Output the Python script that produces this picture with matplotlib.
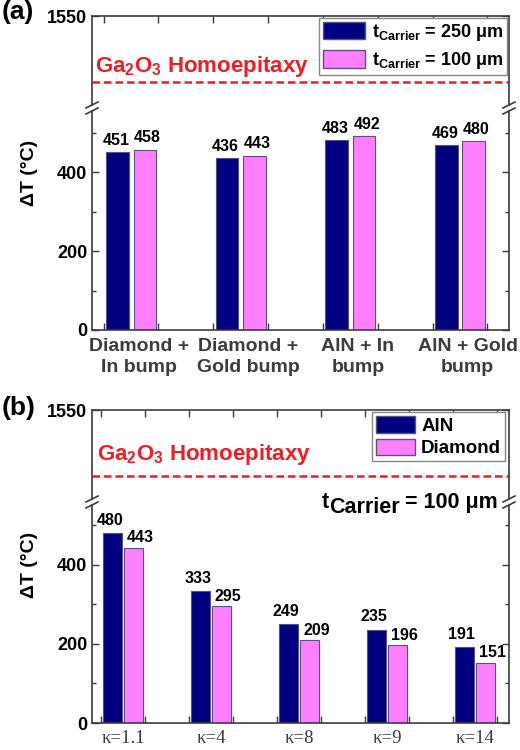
import numpy as np
import matplotlib
matplotlib.use('Agg')
import matplotlib.pyplot as plt
from matplotlib.lines import Line2D
from matplotlib.patches import Patch

# panel (a): carrier thickness comparison
bump_labels = ['Diamond +\nIn bump', 'Diamond +\nGold bump', 'AlN + In\nbump', 'AlN + Gold\nbump']
dt_250um = [451, 436, 483, 469]
dt_100um = [458, 443, 492, 480]

# panel (b): carrier material vs kappa
kappa_labels = ['κ=1.1', 'κ=4', 'κ=8', 'κ=9', 'κ=14']
dt_aln = [480, 333, 249, 235, 191]
dt_diamond = [443, 295, 209, 196, 151]

homoepitaxy_dt = 1383

W, H = 520, 750
NAVY = '#000080'
PINK = '#ff80ff'
RED = '#ee1c24'
SPINE = '#3c3c3c'
EDGE = '#5a4f86'

plt.rcParams['font.family'] = ['Liberation Sans', 'DejaVu Sans']
plt.rcParams['font.weight'] = 'bold'
plt.rcParams['mathtext.fontset'] = 'custom'
plt.rcParams['mathtext.rm'] = 'Liberation Sans:bold'
plt.rcParams['mathtext.it'] = 'Liberation Sans:bold'
plt.rcParams['mathtext.bf'] = 'Liberation Sans:bold'


def fx(x):
    return x / W


def fy(y):
    return 1 - y / H


fig = plt.figure(figsize=(W / 100, H / 100), dpi=100)


def make_panel(top, brk, bottom, n, xlim, lo_max):
    left, right = 92, 509
    ax_up = fig.add_axes([fx(left), fy(brk - 3), fx(right) - fx(left), (brk - 3 - top) / H])
    ax_lo = fig.add_axes([fx(left), fy(bottom), fx(right) - fx(left), (bottom - brk - 3) / H])
    for ax in (ax_up, ax_lo):
        ax.set_xlim(*xlim)
        for s in ax.spines.values():
            s.set_color(SPINE)
            s.set_linewidth(1.2)
        ax.tick_params(direction='in', colors=SPINE, width=1, length=5, labelsize=13,
                       labelcolor='black')
        ax.tick_params(which='minor', direction='in', length=3, width=1, colors=SPINE)
    ax_up.spines['bottom'].set_visible(False)
    ax_lo.spines['top'].set_visible(False)

    ticks = np.sort(np.concatenate([np.arange(n) - 0.25, np.arange(n) + 0.25]))
    ax_up.set_xticks(ticks)
    ax_up.tick_params(axis='x', top=True, bottom=False, labelbottom=False)
    ax_up.set_ylim(1325, 1550)
    ax_up.set_yticks([1550])
    ax_up.tick_params(axis='y', left=True, right=True)

    ax_lo.set_xticks(ticks)
    ax_lo.set_xticklabels([])
    ax_lo.tick_params(axis='x', top=False, bottom=True)
    ax_lo.set_ylim(0, lo_max)
    ax_lo.set_yticks([0, 200, 400])
    ax_lo.set_yticks([100, 300, 500], minor=True)
    ax_lo.tick_params(axis='y', which='both', left=True, right=True)

    ax_up.axhline(homoepitaxy_dt, color=RED, ls=(0, (3, 1.6)), lw=1.8)

    # axis break marks
    for x in (left, right):
        for y in (brk - 3, brk + 3):
            fig.add_artist(Line2D([fx(x - 6), fx(x + 6)], [fy(y + 3), fy(y - 3)],
                                  transform=fig.transFigure, color=SPINE, lw=1.2))
    return ax_up, ax_lo


# ---------------- panel (a) ----------------
up_a, lo_a = make_panel(16, 108, 330, len(bump_labels), (-0.356, 3.447), 556)
x = np.arange(len(bump_labels))
w, off = 0.205, 0.125
lo_a.bar(x - off, dt_250um, w, color=NAVY, edgecolor=EDGE, lw=0.8)
lo_a.bar(x + off, dt_100um, w, color=PINK, edgecolor=EDGE, lw=0.8)
for xi, v in zip(x - off, dt_250um):
    lo_a.annotate(str(v), (xi, v), xytext=(-1, 3), textcoords='offset points',
                  ha='center', va='bottom', fontsize=11.5)
for xi, v in zip(x + off, dt_100um):
    lo_a.annotate(str(v), (xi, v), xytext=(2, 3), textcoords='offset points',
                  ha='center', va='bottom', fontsize=11.5)
# category labels sit slightly right of the group centre, as in the original
lo_a.set_xticks(x + 0.07, minor=True)
lo_a.set_xticklabels(bump_labels, minor=True, fontsize=14, linespacing=1.25)
lo_a.tick_params(axis='x', which='minor', length=0, pad=6)

handles_a = [Patch(facecolor=NAVY, edgecolor=EDGE, label='t$_{Carrier}$ = 250 μm'),
             Patch(facecolor=PINK, edgecolor=EDGE, label='t$_{Carrier}$ = 100 μm')]
up_a.legend(handles=handles_a, loc='upper right', bbox_to_anchor=(0.995, 0.975),
            borderaxespad=0, fontsize=13, handlelength=2.3, handleheight=1.1,
            labelspacing=0.4, borderpad=0.2, handletextpad=0.4, fancybox=False,
            framealpha=1, edgecolor='#888888')

fig.text(fx(95), fy(72), 'Ga$_2$O$_3$ Homoepitaxy', color=RED, fontsize=16,
         ha='left', va='baseline')
fig.text(fx(2), fy(12), '(a)', fontsize=19, ha='left', va='center')
fig.text(fx(30), fy(173), 'ΔT (°C)', fontsize=14, rotation=90, ha='center', va='center')

# ---------------- panel (b) ----------------
up_b, lo_b = make_panel(410, 502, 723, len(kappa_labels), (-0.352, 4.386), 551)
x = np.arange(len(kappa_labels))
w, off = 0.21, 0.118
lo_b.bar(x - off, dt_aln, w, color=NAVY, edgecolor=EDGE, lw=0.8)
lo_b.bar(x + off, dt_diamond, w, color=PINK, edgecolor=EDGE, lw=0.8)
for xi, v in zip(x - off, dt_aln):
    lo_b.annotate(str(v), (xi, v), xytext=(-2, 4), textcoords='offset points',
                  ha='center', va='bottom', fontsize=11.5)
for xi, v in zip(x + off, dt_diamond):
    lo_b.annotate(str(v), (xi, v), xytext=(5, 2), textcoords='offset points',
                  ha='center', va='bottom', fontsize=11.5)
lo_b.set_xticks(x, minor=True)
lo_b.set_xticklabels(kappa_labels, minor=True, fontsize=13.5, fontfamily='Liberation Serif',
                     fontweight='normal')
lo_b.tick_params(axis='x', which='minor', length=0, pad=5)

handles_b = [Patch(facecolor=NAVY, edgecolor=EDGE, label='AlN'),
             Patch(facecolor=PINK, edgecolor=EDGE, label='Diamond')]
up_b.legend(handles=handles_b, loc='upper right', bbox_to_anchor=(0.99, 0.975),
            borderaxespad=0, fontsize=13.5, handlelength=2.1, handleheight=1.0,
            labelspacing=0.2, borderpad=0.2, handletextpad=0.3, fancybox=False,
            framealpha=1, edgecolor='#888888')

fig.text(fx(97), fy(460), 'Ga$_2$O$_3$ Homoepitaxy', color=RED, fontsize=16,
         ha='left', va='baseline')

# "t" + full-size lowered "Carrier" + "= 100 μm", chained right to left
renderer = fig.canvas.get_renderer()
t_rest = fig.text(fx(498), fy(508), '= 100 μm', fontsize=15.5, ha='right', va='baseline')
x_left = t_rest.get_window_extent(renderer).x0
t_sub = fig.text(fx(x_left - 5), fy(513), 'Carrier', fontsize=15.5, ha='right', va='baseline')
x_left = t_sub.get_window_extent(renderer).x0
fig.text(fx(x_left - 0.5), fy(508), 't', fontsize=15.5, ha='right', va='baseline')

fig.text(fx(2), fy(408), '(b)', fontsize=19, ha='left', va='center')
fig.text(fx(30), fy(565), 'ΔT (°C)', fontsize=14, rotation=90, ha='center', va='center')

fig.savefig('out.png', dpi=100)
